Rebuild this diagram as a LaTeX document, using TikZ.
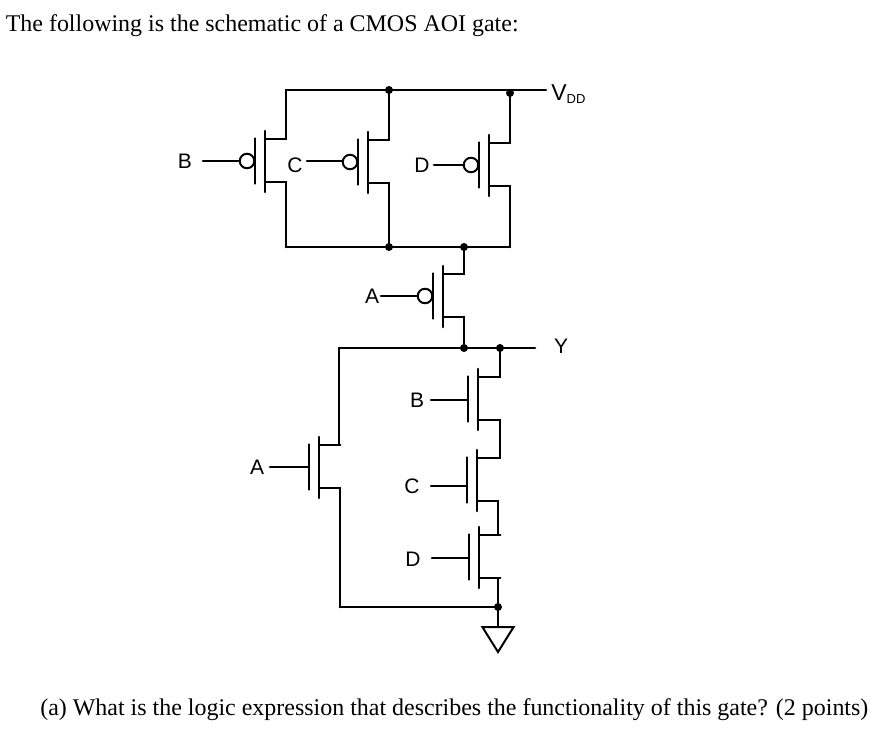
\documentclass[tikz,border=0pt]{standalone}
\usepackage{fontspec}
\setmainfont{Liberation Serif}
\newfontfamily\labelfont{Liberation Sans}
\usetikzlibrary{shapes.geometric}

\tikzset{
  junction/.style={circle,fill=black,inner sep=0pt,minimum size=8pt},
  bubble/.style={circle,draw,line width=2pt,fill=white,inner sep=0pt,minimum size=14.5pt},
  pin/.style={font=\labelfont\fontsize{21}{23}\selectfont,inner sep=0pt},
  prose/.style={font=\fontsize{23.95}{26}\selectfont,inner sep=0pt,anchor=west},
  ground/.style={isosceles triangle,isosceles triangle apex angle=64,shape border rotate=270,
                 draw,line width=2pt,inner sep=0pt,minimum height=25pt,anchor=north},
  nmos/.pic={
    \draw (-10,-22.5) -- (-10,22.5);
    \draw (0,-30) -- (0,31);
    \coordinate (-s) at (21,-22);
    \coordinate (-d) at (21,21);
    \coordinate (-g) at (-10,0);
    \draw (0,-22) -- (-s);
    \draw (0,21) -- (-d);
  },
  pmos/.pic={
    \draw (-10,-22.5) -- (-10,22.5);
    \draw (0,-30) -- (0,31);
    \coordinate (-s) at (21,-22);
    \coordinate (-d) at (21,21);
    \node[bubble] (-g) at (-18,0) {};
    \draw (0,-22) -- (-s);
    \draw (0,21) -- (-d);
  }
}

\begin{document}
\begin{tikzpicture}[x=1pt,y=-1pt,line width=2.6pt,line cap=round]
  \useasboundingbox (0,0) rectangle (882,741);

  % pull-up
  \pic (pB) at (265,161) {pmos};
  \pic (pC) at (368,162) {pmos};
  \pic (pD) at (489,165) {pmos};
  \pic (pA) at (443,296) {pmos};

  % pull-down
  \pic (nA) at (319,467) {nmos};
  \pic (nB) at (478,399) {nmos};
  \pic (nC) at (477,480) {nmos};
  \pic (nD) at (479,557) {nmos};

  \node[junction] (V1)  at (389,90)  {};
  \node[junction] (V2)  at (510,93)  {};
  \node[junction] (M1)  at (389,247) {};
  \node[junction] (M2)  at (464,247) {};
  \node[junction] (Y1)  at (464,348) {};
  \node[junction] (Y2)  at (500,348) {};
  \node[junction] (G1)  at (498,607) {};

  \coordinate (VL)   at (286,90);
  \coordinate (VR)   at (546,90);
  \coordinate (ML)   at (286,247);
  \coordinate (MR)   at (510,247);
  \coordinate (YL)   at (339,348);
  \coordinate (YR)   at (535,348);
  \coordinate (GL)   at (340,607);
  \coordinate (inB)  at (203,161);
  \coordinate (inC)  at (307,161);
  \coordinate (inD)  at (434,165);
  \coordinate (inA)  at (381,296);
  \coordinate (inA2) at (270,467);
  \coordinate (inB2) at (431,400);
  \coordinate (inC2) at (431,486);
  \coordinate (inD2) at (432,558);

  \node[ground] (GND) at (498,626) {};

  \node[pin] (lB)  at (185,161) {B};
  \node[pin] (lC)  at (295,165) {C};
  \node[pin] (lD)  at (422,165) {D};
  \node[pin] (lA)  at (372,296) {A};
  \node[pin] (lA2) at (257,467) {A};
  \node[pin] (lB2) at (417,400) {B};
  \node[pin] (lC2) at (412,486) {C};
  \node[pin] (lD2) at (413,559) {D};
  \node[pin] (lY)  at (561,346) {Y};
  \node[pin,anchor=west,font=\labelfont\fontsize{23}{25}\selectfont] (lV) at (550,94)
    {V\raisebox{-0.3ex}{\fontsize{13}{14}\selectfont DD}};

  \node[prose] (title)    at (4.5,25.5) {The following is the schematic of a CMOS AOI gate:};
  \node[prose] (question) at (39,710)   {(a) What is the logic expression that describes the functionality of this gate? (2 points)};

  % rails
  \draw (VL) -- (VR);
  \draw (ML) -- (MR);
  \draw (YL) -- (YR);
  \draw (GL) -- (G1.center);

  % drains and sources
  \draw (pB-s) -- (VL);
  \draw (pC-s) -- (V1.center);
  \draw (pD-s) -- (V2.center);
  \draw (pB-d) -- (ML);
  \draw (pC-d) -- (M1.center);
  \draw (pD-d) -- (MR);
  \draw (pA-s) -- (M2.center);
  \draw (pA-d) -- (Y1.center);
  \draw (nA-s) -| (YL);
  \draw (nA-d) -- (GL);
  \draw (nB-s) -| (Y2.center);
  \draw (nB-d) -| (Y2 |- nC-s) -- (nC-s);
  \draw (nC-d) -| (G1 |- nD-s) -- (nD-s);
  \draw (nD-d) -| (G1.center);
  \draw (G1.center) -- (GND.apex |- GND.north);

  % gates
  \draw (inB) -- (pB-g);
  \draw (inC) -- (pC-g.west |- inC);
  \draw (inD) -- (pD-g);
  \draw (inA) -- (pA-g);
  \draw (inA2) -- (nA-g);
  \draw (inB2) -- (inB2 -| nB-g);
  \draw (inC2) -- (inC2 -| nC-g);
  \draw (inD2) -- (inD2 -| nD-g);
\end{tikzpicture}
\end{document}
